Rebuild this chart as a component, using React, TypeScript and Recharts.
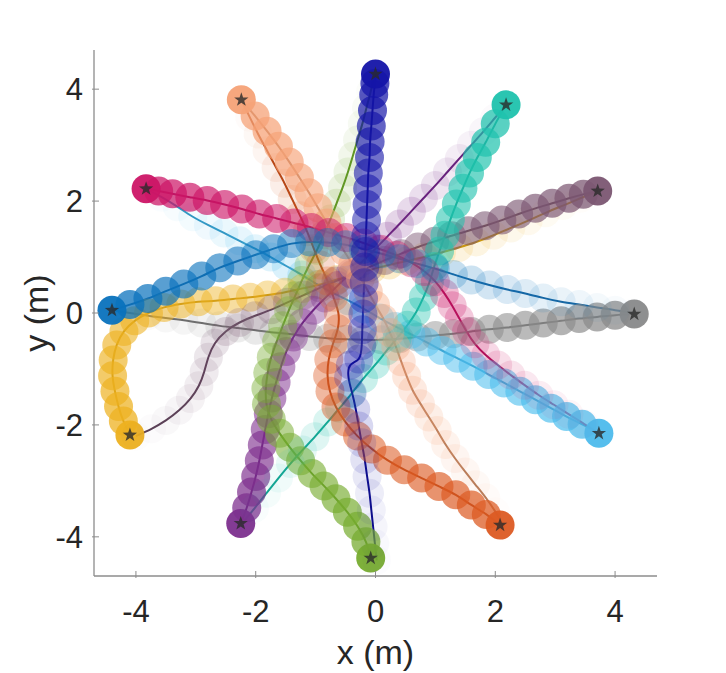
import { ComposedChart, Scatter, Line, XAxis, YAxis } from "recharts";

type Pt = [number, number];

const X_TICKS = [-4, -2, 0, 2, 4];
const Y_TICKS = [-4, -2, 0, 2, 4];

// each route runs from the agent's start to its goal (the starred end)
const blueRoute: Pt[] = [
  [4.3, 0.0], [4.0, 0.05], [3.7, 0.1], [3.4, 0.15], [3.1, 0.2], [2.8, 0.27], [2.5, 0.35],
  [2.2, 0.42], [1.9, 0.5], [1.6, 0.59], [1.3, 0.69], [1.0, 0.79], [0.7, 0.88], [0.4, 0.97],
  [0.1, 1.06], [-0.2, 1.14], [-0.5, 1.22], [-0.8, 1.26], [-1.1, 1.27], [-1.4, 1.24],
  [-1.7, 1.15], [-2.0, 1.04], [-2.3, 0.93], [-2.6, 0.81], [-2.9, 0.66], [-3.2, 0.52],
  [-3.5, 0.39], [-3.8, 0.26], [-4.1, 0.15], [-4.4, 0.05],
];
const grayRoute: Pt[] = [
  [-4.4, 0.05], [-4.1, 0.0], [-3.8, -0.05], [-3.5, -0.09], [-3.2, -0.13], [-2.9, -0.18],
  [-2.6, -0.23], [-2.3, -0.27], [-2.0, -0.31], [-1.7, -0.35], [-1.4, -0.38], [-1.1, -0.42],
  [-0.8, -0.45], [-0.5, -0.47], [-0.2, -0.48], [0.1, -0.48], [0.4, -0.46], [0.7, -0.43],
  [1.0, -0.4], [1.3, -0.37], [1.6, -0.33], [1.9, -0.29], [2.2, -0.26], [2.5, -0.22],
  [2.8, -0.18], [3.1, -0.14], [3.4, -0.1], [3.7, -0.07], [4.0, -0.04], [4.32, -0.02],
];
const skyRoute: Pt[] = [
  [-3.83, 2.22], [-3.57, 2.07], [-3.31, 1.9], [-3.05, 1.72], [-2.79, 1.57], [-2.53, 1.43],
  [-2.27, 1.29], [-2.01, 1.15], [-1.75, 1.0], [-1.49, 0.84], [-1.23, 0.68], [-0.97, 0.51],
  [-0.71, 0.36], [-0.45, 0.22], [-0.19, 0.07], [0.07, -0.09], [0.33, -0.24], [0.59, -0.38],
  [0.85, -0.52], [1.11, -0.67], [1.37, -0.81], [1.63, -0.95], [1.89, -1.1], [2.15, -1.25],
  [2.41, -1.4], [2.67, -1.55], [2.93, -1.7], [3.19, -1.85], [3.45, -1.99], [3.73, -2.15],
];
const pinkRoute: Pt[] = [
  [3.73, -2.15], [3.48, -1.98], [3.23, -1.81], [2.98, -1.64], [2.73, -1.47], [2.49, -1.29],
  [2.26, -1.11], [2.04, -0.93], [1.84, -0.75], [1.66, -0.55], [1.52, -0.33], [1.4, -0.1],
  [1.28, 0.13], [1.15, 0.35], [1.0, 0.56], [0.82, 0.74], [0.6, 0.9], [0.35, 1.03],
  [0.08, 1.14], [-0.2, 1.25], [-0.49, 1.35], [-0.78, 1.44], [-1.07, 1.53], [-1.36, 1.61],
  [-1.65, 1.69], [-1.94, 1.77], [-2.23, 1.86], [-2.52, 1.94], [-2.81, 2.01], [-3.1, 2.07],
  [-3.39, 2.13], [-3.62, 2.18], [-3.83, 2.22],
];
const orangeRoute: Pt[] = [
  [-2.24, 3.81], [-2.1, 3.5], [-1.96, 3.2], [-1.81, 2.9], [-1.66, 2.6], [-1.52, 2.32],
  [-1.39, 2.03], [-1.26, 1.74], [-1.14, 1.45], [-1.03, 1.15], [-0.92, 0.86], [-0.8, 0.57],
  [-0.7, 0.28], [-0.62, 0.0], [-0.63, -0.28], [-0.71, -0.55], [-0.78, -0.83], [-0.8, -1.12],
  [-0.76, -1.4], [-0.66, -1.68], [-0.5, -1.95], [-0.3, -2.2], [-0.06, -2.43], [0.2, -2.63],
  [0.48, -2.8], [0.77, -2.95], [1.06, -3.1], [1.34, -3.25], [1.6, -3.43], [1.85, -3.6],
  [2.08, -3.79],
];
const peachRoute: Pt[] = [
  [2.15, -3.82], [2.0, -3.55], [1.84, -3.3], [1.67, -3.07], [1.5, -2.84], [1.33, -2.6],
  [1.17, -2.35], [1.03, -2.1], [0.89, -1.86], [0.75, -1.62], [0.62, -1.38], [0.52, -1.13],
  [0.43, -0.87], [0.34, -0.6], [0.24, -0.35], [0.13, -0.1], [0.0, 0.14], [-0.12, 0.38],
  [-0.25, 0.62], [-0.38, 0.86], [-0.52, 1.1], [-0.66, 1.35], [-0.81, 1.61], [-0.96, 1.88],
  [-1.11, 2.15], [-1.27, 2.42], [-1.44, 2.7], [-1.62, 2.98], [-1.81, 3.25], [-2.01, 3.52],
  [-2.24, 3.81],
];
const yellowRoute: Pt[] = [
  [3.71, 2.18], [3.42, 2.05], [3.13, 1.92], [2.84, 1.79], [2.55, 1.65], [2.26, 1.52],
  [1.97, 1.39], [1.68, 1.27], [1.39, 1.17], [1.1, 1.08], [0.81, 1.0], [0.52, 0.93],
  [0.23, 0.86], [-0.06, 0.78], [-0.35, 0.69], [-0.64, 0.6], [-0.93, 0.51], [-1.22, 0.44],
  [-1.51, 0.37], [-1.8, 0.32], [-2.09, 0.28], [-2.38, 0.25], [-2.67, 0.22], [-2.96, 0.2],
  [-3.25, 0.16], [-3.53, 0.1], [-3.79, 0.0], [-4.02, -0.14], [-4.2, -0.33], [-4.32, -0.57],
  [-4.38, -0.84], [-4.39, -1.12], [-4.35, -1.4], [-4.29, -1.67], [-4.21, -1.93], [-4.1, -2.18],
];
const mauveRoute: Pt[] = [
  [-4.0, -2.2], [-3.74, -2.07], [-3.5, -1.92], [-3.28, -1.74], [-3.09, -1.53], [-2.95, -1.3],
  [-2.86, -1.05], [-2.79, -0.79], [-2.68, -0.54], [-2.5, -0.33], [-2.27, -0.17], [-2.01, -0.05],
  [-1.74, 0.06], [-1.47, 0.19], [-1.2, 0.32], [-0.93, 0.45], [-0.66, 0.57], [-0.39, 0.69],
  [-0.12, 0.81], [0.15, 0.94], [0.43, 1.06], [0.71, 1.18], [0.99, 1.28], [1.27, 1.38],
  [1.55, 1.47], [1.83, 1.56], [2.11, 1.66], [2.39, 1.77], [2.67, 1.87], [2.95, 1.96],
  [3.23, 2.05], [3.47, 2.12], [3.71, 2.18],
];
const navyRoute: Pt[] = [
  [0.02, -4.42], [-0.01, -4.12], [-0.04, -3.82], [-0.07, -3.52], [-0.1, -3.22], [-0.14, -2.92],
  [-0.18, -2.62], [-0.23, -2.32], [-0.28, -2.02], [-0.33, -1.72], [-0.39, -1.43], [-0.45, -1.15],
  [-0.42, -0.93], [-0.28, -0.82], [-0.23, -0.58], [-0.22, -0.3], [-0.21, -0.02], [-0.2, 0.26],
  [-0.19, 0.54], [-0.18, 0.82], [-0.17, 1.1], [-0.16, 1.38], [-0.15, 1.66], [-0.14, 1.94],
  [-0.13, 2.22], [-0.12, 2.5], [-0.1, 2.78], [-0.09, 3.06], [-0.07, 3.34], [-0.05, 3.62],
  [-0.03, 3.9], [-0.01, 4.1], [0.0, 4.27],
];
const tealRoute: Pt[] = [
  [-2.22, -3.75], [-2.02, -3.49], [-1.82, -3.22], [-1.62, -2.95], [-1.42, -2.69], [-1.22, -2.45],
  [-1.01, -2.21], [-0.8, -1.95], [-0.6, -1.7], [-0.4, -1.44], [-0.2, -1.17], [0.0, -0.92],
  [0.18, -0.68], [0.36, -0.45], [0.53, -0.22], [0.68, 0.02], [0.8, 0.28], [0.9, 0.55],
  [0.98, 0.83], [1.07, 1.11], [1.16, 1.39], [1.25, 1.67], [1.35, 1.95], [1.46, 2.23],
  [1.57, 2.5], [1.7, 2.78], [1.84, 3.05], [2.0, 3.38], [2.18, 3.72],
];
const purpleRoute: Pt[] = [
  [2.18, 3.72], [1.99, 3.48], [1.8, 3.24], [1.6, 3.0], [1.4, 2.76], [1.2, 2.52], [1.0, 2.28],
  [0.8, 2.05], [0.6, 1.82], [0.4, 1.59], [0.2, 1.37], [0.0, 1.15], [-0.21, 0.93], [-0.42, 0.71],
  [-0.63, 0.49], [-0.84, 0.27], [-1.04, 0.05], [-1.22, -0.18], [-1.37, -0.43], [-1.49, -0.69],
  [-1.58, -0.96], [-1.66, -1.24], [-1.73, -1.52], [-1.79, -1.8], [-1.84, -2.08], [-1.89, -2.36],
  [-1.94, -2.64], [-2.0, -2.92], [-2.07, -3.2], [-2.15, -3.48], [-2.25, -3.76],
];
const greenRoute: Pt[] = [
  [-0.02, 4.25], [-0.08, 3.96], [-0.15, 3.67], [-0.22, 3.38], [-0.3, 3.09], [-0.38, 2.8],
  [-0.46, 2.52], [-0.55, 2.24], [-0.65, 1.96], [-0.75, 1.68], [-0.86, 1.4], [-0.98, 1.12],
  [-1.11, 0.85], [-1.23, 0.58], [-1.34, 0.31], [-1.45, 0.04], [-1.55, -0.23], [-1.65, -0.51],
  [-1.74, -0.79], [-1.8, -1.07], [-1.83, -1.35], [-1.82, -1.63], [-1.74, -1.9], [-1.6, -2.15],
  [-1.43, -2.4], [-1.25, -2.64], [-1.06, -2.87], [-0.86, -3.09], [-0.66, -3.32], [-0.47, -3.56],
  [-0.3, -3.81], [-0.16, -4.09], [-0.08, -4.38],
];

const agents = [
  { id: "gray", route: grayRoute, fill: "#8a8a8a", line: "#6a6a6a" },
  { id: "sky", route: skyRoute, fill: "#4dbeee", line: "#2f93bf" },
  { id: "yellow", route: yellowRoute, fill: "#edb120", line: "#c08f0c" },
  { id: "mauve", route: mauveRoute, fill: "#7b5672", line: "#5a3f55" },
  { id: "purple", route: purpleRoute, fill: "#7e2f8e", line: "#64207a" },
  { id: "green", route: greenRoute, fill: "#77ac30", line: "#5c9322" },
  { id: "teal", route: tealRoute, fill: "#1fc2ad", line: "#12a391" },
  { id: "orange", route: orangeRoute, fill: "#dc5a22", line: "#b24516" },
  { id: "peach", route: peachRoute, fill: "#f6a277", line: "#b47a58" },
  { id: "pink", route: pinkRoute, fill: "#cc1566", line: "#a80f56" },
  { id: "blue", route: blueRoute, fill: "#0a72bd", line: "#1866a2" },
  { id: "navy", route: navyRoute, fill: "#1414a8", line: "#0d0d8a" },
];

const FONT = "'Liberation Sans', Arial, Helvetica, sans-serif";
const AXIS = "#8c8c8c";
const R = 14.5;

// older positions fade out; the goal position is drawn nearly solid
const trailAlpha = (i: number, n: number) =>
  i === n - 1 ? 0.95 : 0.01 + 0.76 * Math.pow(i / (n - 1), 1.15);

const trails = agents.map((a) => ({
  ...a,
  dots: a.route.map(([x, y], i) => ({ x, y, a: trailAlpha(i, a.route.length) })),
  path: a.route.map(([x, y]) => ({ x, y })),
}));

const goals = agents.map((a) => {
  const [x, y] = a.route[a.route.length - 1];
  return { x, y };
});

function starPath(cx: number, cy: number, ro: number, ri: number) {
  let d = "";
  for (let k = 0; k < 10; k++) {
    const r = k % 2 === 0 ? ro : ri;
    const ang = -Math.PI / 2 + (k * Math.PI) / 5;
    d += `${k === 0 ? "M" : "L"}${cx + r * Math.cos(ang)},${cy + r * Math.sin(ang)}`;
  }
  return d + "Z";
}

const XTick = ({ x, y, payload }: any) => (
  <g>
    <line x1={x} x2={x} y1={y} y2={y - 7} stroke={AXIS} />
    <text x={x} y={y + 44} textAnchor="middle" fontSize={31} fill="#262626" fontFamily={FONT}>
      {payload.value}
    </text>
  </g>
);

const YTick = ({ x, y, payload }: any) => (
  <g>
    <line x1={x} x2={x + 7} y1={y} y2={y} stroke={AXIS} />
    <text x={x - 9} y={y + 11} textAnchor="end" fontSize={31} fill="#262626" fontFamily={FONT}>
      {payload.value}
    </text>
  </g>
);

const XTitle = ({ viewBox }: any) => (
  <text
    x={viewBox.x + viewBox.width / 2}
    y={viewBox.y + 88}
    textAnchor="middle"
    fontSize={34}
    fill="#262626"
    fontFamily={FONT}
  >
    x (m)
  </text>
);

const YTitle = ({ viewBox }: any) => {
  const cx = viewBox.x + 14;
  const cy = viewBox.y + viewBox.height / 2;
  return (
    <text
      x={cx}
      y={cy}
      transform={`rotate(-90, ${cx}, ${cy})`}
      textAnchor="middle"
      fontSize={34}
      fill="#262626"
      fontFamily={FONT}
    >
      y (m)
    </text>
  );
};

export default function App() {
  return (
    <div style={{ position: "absolute", left: 0, top: 0, background: "#fff" }}>
      <ComposedChart width={726} height={673} margin={{ top: 50, right: 69, bottom: 37, left: 34 }}>
        <XAxis
          type="number"
          dataKey="x"
          domain={[-4.7, 4.7]}
          ticks={X_TICKS}
          interval={0}
          tickSize={0}
          tickLine={false}
          axisLine={{ stroke: AXIS, strokeWidth: 1.3 }}
          tick={XTick}
          height={60}
          label={XTitle}
        />
        <YAxis
          type="number"
          dataKey="y"
          domain={[-4.7, 4.7]}
          ticks={Y_TICKS}
          interval={0}
          tickSize={0}
          tickLine={false}
          axisLine={{ stroke: AXIS, strokeWidth: 1.3 }}
          tick={YTick}
          width={60}
          label={YTitle}
        />

        {trails.map((t) => (
          <Scatter
            key={`trail-${t.id}`}
            data={t.dots}
            isAnimationActive={false}
            shape={(p: any) => (
              <circle cx={p.cx} cy={p.cy} r={R} fill={t.fill} fillOpacity={p.payload.a} />
            )}
          />
        ))}

        {trails.map((t) => (
          <Line
            key={`path-${t.id}`}
            data={t.path}
            dataKey="y"
            type="natural"
            stroke={t.line}
            strokeWidth={2}
            dot={false}
            activeDot={false}
            isAnimationActive={false}
          />
        ))}

        <Scatter
          data={goals}
          isAnimationActive={false}
          shape={(p: any) => (
            <path d={starPath(p.cx, p.cy, 7.5, 3)} fill="#2a2a2a" fillOpacity={0.8} />
          )}
        />
      </ComposedChart>
    </div>
  );
}
